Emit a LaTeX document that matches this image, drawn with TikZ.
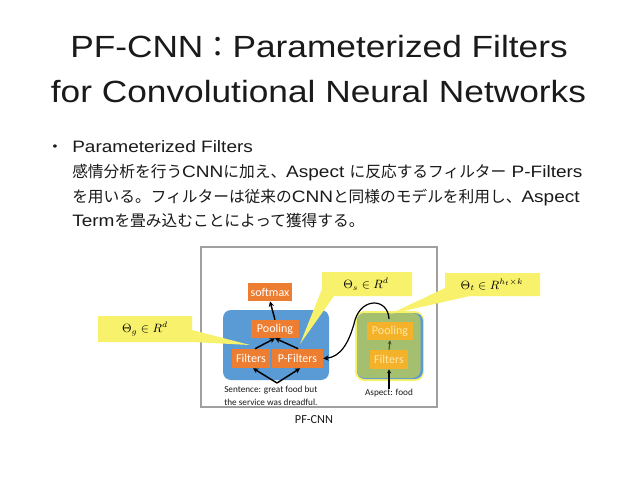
\documentclass[tikz,border=0pt]{standalone}
\usepackage{fontspec}
\setmainfont[FakeStretch=1.15]{Liberation Sans}
\newfontfamily\jp[Scale=0.95]{Noto Sans CJK JP}
\newfontfamily\calfont{Carlito}
\usetikzlibrary{arrows.meta}
\definecolor{orng}{HTML}{ED7D31}
\definecolor{blu}{HTML}{5B9BD5}
\definecolor{grn}{HTML}{A4BF6E}
\definecolor{gold}{HTML}{F4B22A}
\definecolor{goldtxt}{HTML}{FCE8A6}
\definecolor{ylw}{HTML}{F8F16B}
\definecolor{frm}{HTML}{A0A0A0}
\definecolor{olive}{HTML}{4F4F2A}
\definecolor{ink}{HTML}{1A1A1A}
\tikzset{
  titletext/.style={anchor=base, text=ink, inner sep=0, font=\fontsize{23}{26}\selectfont},
  bodytext/.style={anchor=base west, text=ink, inner sep=0, font=\fontsize{12.4}{14}\selectfont},
  obox/.style={fill=orng, text=white, inner sep=0, font=\calfont\fontsize{9}{10}\selectfont},
  gbox/.style={fill=gold, text=goldtxt, inner sep=0, font=\calfont\fontsize{9}{10}\selectfont},
  small/.style={inner sep=0, text=ink, font=\calfont\fontsize{6.9}{9.75}\selectfont},
  callout/.style={fill=ylw, draw=none},
  mathtxt/.style={inner sep=0, font=\fontsize{9}{10}\selectfont},
  arr/.style={draw=black, line width=1.1pt, -{Stealth[length=4pt,width=4pt]}},
  sarr/.style={draw=olive, line width=0.8pt, -{Stealth[length=3pt,width=3pt]}},
}
\begin{document}
\begin{tikzpicture}[x=0.75pt,y=-0.75pt]
\useasboundingbox (0,0) rectangle (638,479);
\fill[white] (0,0) rectangle (638,479);

% title
\node[titletext] (t1) at (319,57) {PF-CNN{\jp ：}Parameterized Filters};
\node[titletext] (t2) at (318.5,102) {for Convolutional Neural Networks};

% bullet text
\node[inner sep=0, text=ink, font=\fontsize{9}{10}\selectfont] (bul) at (55,147.5) {\textbullet};
\node[bodytext] (l1) at (72,152) {Parameterized Filters};
\node[bodytext] (l2) at (72,177.5) {{\jp 感情分析を行う}CNN{\jp に加え、}Aspect {\jp に反応するフィルター} P-Filters};
\node[bodytext] (l3) at (72,202) {{\jp を用いる。フィルターは従来の}CNN{\jp と同様のモデルを利用し、}Aspect};
\node[bodytext] (l4) at (72,226) {Term{\jp を畳み込むことによって獲得する。}};

% figure frame
\draw[frm, line width=0.9pt] (201,247) rectangle (437,407);

% left blue group
\fill[blu, rounded corners=6pt] (223,310) rectangle (329,380);
\node[obox, minimum width=33pt, minimum height=13.5pt] (soft) at (270,292) {softmax};
\node[obox, minimum width=36pt, minimum height=13.5pt] (pool1) at (275,329) {Pooling};
\node[obox, minimum width=28.5pt, minimum height=14.25pt] (filt1) at (251,358.5) {Filters};
\node[obox, minimum width=38.25pt, minimum height=14.25pt] (pfilt) at (297.5,358.5) {P-Filters};

% right green group
\fill[ylw, rounded corners=7pt] (355,311) rectangle (424,381);
\fill[blu, rounded corners=6pt] (357,313) rectangle (423,379);
\fill[grn, rounded corners=6pt] (357,313) rectangle (420.5,378);
\node[gbox, minimum width=34.5pt, minimum height=13.5pt] (pool2) at (390,331) {Pooling};
\node[gbox, minimum width=28.5pt, minimum height=14.25pt] (filt2) at (389,359.5) {Filters};

% texts
\node[small, anchor=north west, align=left] (sent) at (224,385.5) {Sentence: great food but\\the service was dreadful.};
\node[small, anchor=north] (asp) at (389,389) {Aspect: food};
\node[inner sep=0, text=ink, font=\calfont\fontsize{9.2}{10}\selectfont, anchor=base] (cap) at (314,423) {PF-CNN};

% arrows left
\draw[arr] (pool1.north) -- (soft.south);
\draw[arr] ([xshift=3pt]filt1.north) -- (pool1.south);
\draw[arr] ([xshift=0.5pt]pfilt.north) -- (pool1.south);
\coordinate (apex) at (277,383);
\draw[arr] (apex) -- ([xshift=1.5pt]filt1.south);
\draw[arr] (apex) -- ([xshift=2pt]pfilt.south);

% arrows right
\draw[sarr] (filt2.north) -- (pool2.south);
\draw[sarr, draw=black] (asp.north) -- (filt2.south);

% curved connector
\coordinate (cs) at (389,319);
\draw[line width=0.9pt, -{Stealth[length=4pt,width=4pt]}] (cs) .. controls (388,298) and (362,297) .. (355,320) .. controls (349,344) and (340,357) .. (pfilt.east);

% callouts
\fill[callout] (98,316) -- (192,316) -- (192,330) -- (250,345) -- (192,342) -- (98,342) -- cycle;
\node[mathtxt] (cg) at (145,329) {$\Theta_g \in R^d$};
\fill[callout] (322,272) -- (412,272) -- (412,296) -- (334,296) -- (300,344) -- (322,289) -- cycle;
\node[mathtxt] (cs2) at (366,284) {$\Theta_s \in R^d$};
\fill[callout] (445,273) -- (540,273) -- (540,296) -- (470,296) -- (390,314) -- (445,288) -- cycle;
\node[mathtxt] (ct) at (492,284.5) {$\Theta_t \in R^{h_t\times k}$};
\end{tikzpicture}
\end{document}
